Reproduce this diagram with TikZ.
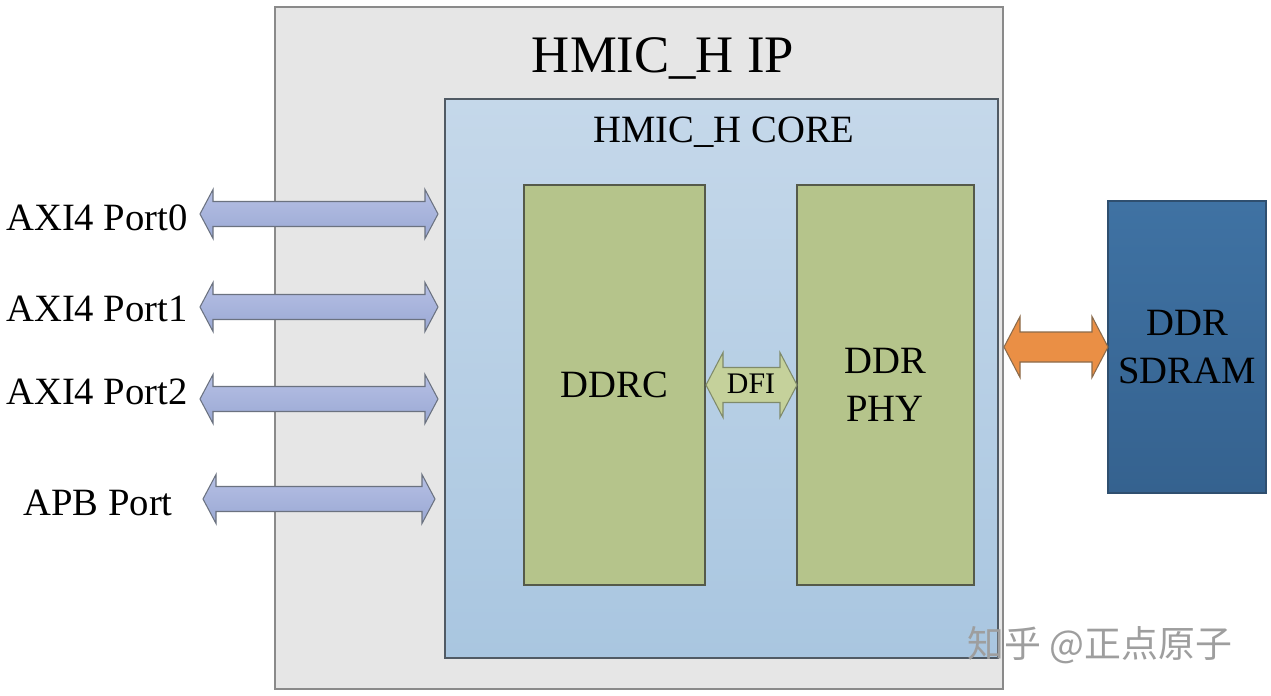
\documentclass[tikz,border=0pt]{standalone}
\usepackage{fontspec}
\setmainfont{Liberation Serif}
\newfontfamily\cjk{Noto Sans CJK SC}
\usetikzlibrary{fit}
\definecolor{ipfill}{HTML}{E6E6E6}
\definecolor{ipline}{HTML}{8A8A8A}
\definecolor{coretop}{HTML}{C5D8EA}
\definecolor{corebot}{HTML}{A9C6E0}
\definecolor{coreline}{HTML}{505A64}
\definecolor{greenfill}{HTML}{B5C48B}
\definecolor{greenline}{HTML}{555A4A}
\definecolor{ramtop}{HTML}{3F72A3}
\definecolor{rambot}{HTML}{35628F}
\definecolor{ramline}{HTML}{2F4F6F}
\definecolor{axitop}{HTML}{B6C0E4}
\definecolor{axibot}{HTML}{9AA8D4}
\definecolor{axiline}{HTML}{6B7280}
\definecolor{dfifill}{HTML}{C5D19B}
\definecolor{dfiline}{HTML}{7F8A6A}
\definecolor{orfill}{HTML}{EA8F45}
\definecolor{orline}{HTML}{8B6B4B}
\newcommand\blockarr[7]{%
  \draw[#1] (#2,#4) -- (#2+#7,#4-#6) -- (#2+#7,#4-#5) -- (#3-#7,#4-#5) -- (#3-#7,#4-#6)
    -- (#3,#4) -- (#3-#7,#4+#6) -- (#3-#7,#4+#5) -- (#2+#7,#4+#5) -- (#2+#7,#4+#6) -- cycle;}
\tikzset{
  x=0.02cm, y=-0.02cm,
  box/.style={inner sep=0pt, line width=0.6pt},
  ipbox/.style={box, draw=ipline, fill=ipfill, line width=1pt},
  corebox/.style={box, draw=coreline, top color=coretop, bottom color=corebot},
  greenbox/.style={box, draw=greenline, fill=greenfill},
  rambox/.style={box, draw=ramline, top color=ramtop, bottom color=rambot},
  axiarrow/.style={draw=axiline, line width=0.6pt, top color=axitop, bottom color=axibot, line join=miter},
  dfiarrow/.style={draw=dfiline, line width=0.6pt, fill=dfifill},
  orarrow/.style={draw=orline, line width=0.6pt, fill=orfill},
  lbl/.style={font=\fontsize{22}{27.3}\selectfont, align=center, inner sep=0pt, text=black},
}
\begin{document}
\begin{tikzpicture}
\useasboundingbox (0,0) rectangle (1271,696);
\fill[white] (0,0) rectangle (1271,696);
% boxes
\node[ipbox, fit={(275,7) (1003,689)}] (ip) {};
\node[corebox, fit={(445,99) (998,658)}] (core) {};
\node[greenbox, fit={(524,185) (705,585)}] (ddrc) {};
\node[greenbox, fit={(797,185) (974,585)}] (phy) {};
\node[rambox, fit={(1108,201) (1266,493)}] (ram) {};
% titles
\node[lbl, font=\fontsize{30}{36}\selectfont] (iptitle) at (663,58) {HMIC\_H IP};
\node[lbl] (coretitle) at (724,132) {HMIC\_H CORE};
\node[lbl] (ddrctext) at (ddrc.center) {DDRC};
\node[lbl] (phytext) at (885,385) {DDR\\PHY};
\node[lbl] (ramtext) at (1187,347) {DDR\\SDRAM};
% port labels
\node[lbl] (p0) at (97,218) {AXI4 Port0};
\node[lbl] (p1) at (97,309) {AXI4 Port1};
\node[lbl] (p2) at (97,392) {AXI4 Port2};
\node[lbl] (apb) at (98,503) {APB Port};
% block arrows
\blockarr{axiarrow}{200}{438}{214}{12.5}{24.5}{13}
\blockarr{axiarrow}{200}{438}{307}{12.5}{24.5}{13}
\blockarr{axiarrow}{200}{438}{399}{12.5}{24.5}{13}
\blockarr{axiarrow}{203}{435}{499}{12.5}{24.5}{13}
\blockarr{dfiarrow}{706}{797}{385}{17.5}{32.5}{17}
\blockarr{orarrow}{1004}{1108}{347}{15}{30.5}{16}
\node[lbl, font=\fontsize{17}{20}\selectfont] (dfi) at (751,384) {DFI};
% watermark
\node[inner sep=0pt, text=black!38, font=\cjk\fontsize{21}{24}\selectfont] (wm) at (1100,645) {知乎 @正点原子};
\end{tikzpicture}
\end{document}
